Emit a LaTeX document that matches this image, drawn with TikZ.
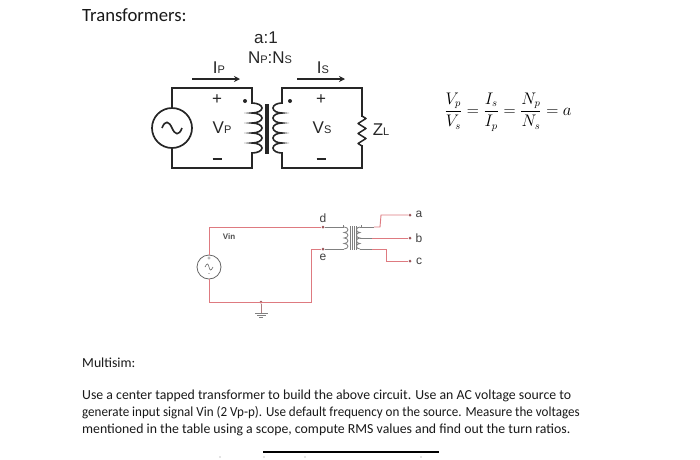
\documentclass[tikz,border=0pt]{standalone}
\usepackage{fontspec}
\usepackage{amsmath}
\usepackage{graphicx}
\setmainfont{Carlito}
\newfontfamily\hv{Liberation Sans}
\newcommand{\bigsub}[2]{{\fontsize{17}{17}\selectfont #1\fontsize{11}{11}\selectfont #2}}
\definecolor{wirered}{HTML}{DE7A80}
\definecolor{wiregrey}{HTML}{808080}
\tikzset{
  x=1pt,y=1pt,
  wire/.style={draw=black!85,line width=1.6pt,line cap=rect},
  arrowline/.style={draw=black!85,line width=1.6pt,-{Stealth[length=6pt,width=6pt]}},
  bodytext/.style={font=\fontsize{13.8}{13.8}\selectfont,anchor=base west,inner sep=0pt,text=black!90},
  biglabel/.style={font=\hv\fontsize{17}{17}\selectfont,inner sep=0pt,text=black!85},
  smalllabel/.style={font=\hv\fontsize{12}{12}\selectfont,inner sep=0pt,text=black!75},
  redwire/.style={draw=wirered,line width=.9pt},
  greywire/.style={draw=wiregrey,line width=1pt},
  pin/.style={circle,fill=wirered!70!black,inner sep=0pt,minimum size=3pt},
  tick/.style={fill=black!45,inner sep=0pt,minimum size=1.2pt,circle},
}
\usetikzlibrary{arrows.meta}
\begin{document}
\begin{tikzpicture}
\useasboundingbox[fill=white] (0,0) rectangle (700,-459);
% texts
\node[bodytext,font=\fontsize{18.7}{18.7}\selectfont] (title) at (82,-21) {Transformers:};
\node[bodytext] (multi) at (82,-367) {Multisim:};
\node[bodytext] (l1) at (82,-399.5) {Use a center tapped transformer to build the above circuit. Use an AC voltage source to};
\node[bodytext] (l2) at (82,-416) {\scalebox{.946}[1]{generate input signal Vin (2 Vp-p). Use default frequency on the source. Measure the voltages}};
\node[bodytext] (l3) at (82,-433) {mentioned in the table using a scope, compute RMS values and find out the turn ratios.};
% upper circuit
\node[circle,draw=black!85,line width=1.7pt,minimum size=40pt,inner sep=0pt] (src) at (172,-128) {};
\draw[black!85,line width=1.6pt] (162,-128) .. controls (165,-120) and (169,-121) .. (172,-128) .. controls (175,-135) and (179,-136) .. (182,-128);
\coordinate (tl) at (172,-88);
\coordinate (pt) at (252,-88);
\coordinate (pa) at (252,-103);
\coordinate (pb) at (252,-153);
\coordinate (pbt) at (252,-168);
\coordinate (bl) at (172,-168);
\draw[wire] (src.north) -- (tl) -- (pt) -- (pa);
\draw[wire] (src.south) -- (bl) -- (pbt) -- (pb);
\draw[wire,line cap=round] (pa) arc[start angle=90,end angle=-90,x radius=10,y radius=5]
  arc[start angle=90,end angle=-90,x radius=10,y radius=5]
  arc[start angle=90,end angle=-90,x radius=10,y radius=5]
  arc[start angle=90,end angle=-90,x radius=10,y radius=5]
  arc[start angle=90,end angle=-90,x radius=10,y radius=5];
\node[draw=none,fill=black!85,minimum width=3.5pt,minimum height=50pt,inner sep=0pt] (core) at (267,-128.5) {};
\coordinate (sa) at (282,-103);
\coordinate (sb) at (282,-153);
\coordinate (st) at (282,-88);
\coordinate (sbt) at (282,-168);
\coordinate (tr) at (362,-88);
\coordinate (br) at (362,-168);
\coordinate (ra) at (362,-116);
\coordinate (rb) at (362,-146);
\draw[wire] (sa) -- (st) -- (tr) -- (ra);
\draw[wire] (sb) -- (sbt) -- (br) -- (rb);
\draw[wire,line cap=round] (sa) arc[start angle=90,end angle=270,x radius=9,y radius=5]
  arc[start angle=90,end angle=270,x radius=9,y radius=5]
  arc[start angle=90,end angle=270,x radius=9,y radius=5]
  arc[start angle=90,end angle=270,x radius=9,y radius=5]
  arc[start angle=90,end angle=270,x radius=9,y radius=5];
\draw[black!85,line width=1.5pt,line join=round] (ra) -- (366,-118.5) -- (358,-123.5) -- (366,-128.5) -- (358,-133.5) -- (366,-138.5) -- (358,-143.5) -- (rb);
\coordinate (ipa) at (192,-79); \coordinate (ipb) at (240,-79);
\coordinate (isa) at (297,-79); \coordinate (isb) at (345,-79);
\draw[arrowline] (ipa) -- (ipb);
\draw[arrowline] (isa) -- (isb);
\node[circle,fill=black!85,inner sep=0pt,minimum size=4pt] (dot1) at (245,-101) {};
\node[circle,fill=black!85,inner sep=0pt,minimum size=4pt] (dot2) at (290,-101) {};
\node[biglabel] (ratio) at (266,-38) {a:1};
\node[biglabel] (np) at (270,-58) {\bigsub{N}{P}:\bigsub{N}{S}};
\node[biglabel] (ip) at (219,-68) {\bigsub{I}{P}};
\node[biglabel] (is) at (323,-68) {\bigsub{I}{S}};
\node[biglabel] (pp) at (217,-100) {+};
\node[biglabel] (ps) at (321,-100) {+};
\node[biglabel] (mp) at (217,-159) {\rule{9pt}{1.3pt}};
\node[biglabel] (ms) at (321,-159) {\rule{9pt}{1.3pt}};
\node[biglabel] (vp) at (222,-128) {\bigsub{V}{P}};
\node[biglabel] (vs) at (322,-128) {\bigsub{V}{S}};
\node[biglabel] (zl) at (381,-130) {\bigsub{Z}{L}};
% formula
\node[inner sep=0pt,font=\fontsize{16}{19}\selectfont] (formula) at (508,-112) {\scalebox{.97}{$\displaystyle \frac{V_p}{V_s}=\frac{I_s}{I_p}=\frac{N_p}{N_s}=a$}};
% lower circuit
\node[circle,draw=black!60,line width=.8pt,minimum size=24pt,inner sep=0pt] (vsrc) at (209,-267) {};
\draw[black!60,line width=.6pt] (205,-267) .. controls (207,-263) and (208,-263) .. (209,-267) .. controls (210,-271) and (211,-271) .. (213,-267);
\node[inner sep=0pt,font=\hv\fontsize{6}{6}\selectfont,text=black!70] (vp2) at (209,-259) {+};
\node[inner sep=0pt,font=\hv\fontsize{6}{6}\selectfont,text=black!70] (vm2) at (209,-275) {-};
\coordinate (tl2) at (209,-227);
\node[pin] (d) at (323,-227) {};
\node[pin] (e) at (323,-249) {};
\coordinate (ec) at (311,-249);
\coordinate (br2) at (311,-302);
\coordinate (bl2) at (209,-302);
\node[pin] (g) at (261,-302) {};
\coordinate (gb) at (261,-313);
\draw[redwire] (vsrc.north) -- (tl2) -- (d);
\draw[redwire] (vsrc.south) -- (bl2) -- (br2) -- (ec) -- (e);
\draw[draw=wirered!50!wiregrey,line width=.9pt] (g) -- (gb);
\node[fill=wiregrey,inner sep=0pt,minimum width=13pt,minimum height=1.4pt] (g1) at (261,-313.5) {};
\node[fill=wiregrey,inner sep=0pt,minimum width=9pt,minimum height=1.4pt] (g2) at (261,-315.5) {};
\node[fill=wiregrey,inner sep=0pt,minimum width=4pt,minimum height=1.4pt] (g3) at (261,-317.5) {};
% transformer 2
\coordinate (c1) at (344,-227);
\coordinate (c2) at (344,-249);
\draw[greywire] (d) -- (c1);
\draw[greywire] (e) -- (c2);
\draw[wiregrey,line width=.8pt] (c1) arc[start angle=90,end angle=-90,x radius=4,y radius=2.75]
 arc[start angle=90,end angle=-90,x radius=4,y radius=2.75]
 arc[start angle=90,end angle=-90,x radius=4,y radius=2.75]
 arc[start angle=90,end angle=-90,x radius=4,y radius=2.75];
\foreach \xx in {350,352,354,356}{\draw[wiregrey,line width=.9pt] (\xx,-226) -- (\xx,-250);}
\coordinate (s1) at (360,-227);
\coordinate (s2) at (360,-238);
\coordinate (s3) at (360,-249);
\draw[wiregrey,line width=.8pt] (s1) arc[start angle=90,end angle=270,x radius=3.5,y radius=2.75]
 arc[start angle=90,end angle=270,x radius=3.5,y radius=2.75]
 arc[start angle=90,end angle=270,x radius=3.5,y radius=2.75]
 arc[start angle=90,end angle=270,x radius=3.5,y radius=2.75];
\coordinate (s1g) at (374,-227);
\coordinate (s2g) at (372,-238);
\coordinate (s3g) at (372,-249);
\draw[greywire] (s1) -- (s1g);
\draw[greywire] (s2) -- (s2g);
\draw[greywire] (s3) -- (s3g);
\node[pin] (pa2) at (410,-215) {};
\node[pin] (pb2) at (410,-238) {};
\node[pin] (pc2) at (410,-261) {};
\coordinate (aa) at (380,-227);
\coordinate (ab) at (381,-215);
\coordinate (ca) at (386,-249);
\coordinate (cb) at (386,-261);
\draw[redwire] (s1g) -- (aa) -- (ab) -- (pa2);
\draw[redwire] (s2g) -- (pb2);
\draw[redwire] (s3g) -- (ca) -- (cb) -- (pc2);
\draw[wiregrey,line width=.5pt] (343,-225) -- (343,-227) (361,-225) -- (361,-227);
\node[smalllabel] (la) at (419,-214) {a};
\node[smalllabel] (lb) at (419,-238) {b};
\node[smalllabel] (lc) at (419,-261) {c};
\node[smalllabel] (ld) at (323,-218) {d};
\node[smalllabel] (le) at (323,-257) {e};
\node[inner sep=0pt,font=\hv\bfseries\fontsize{8}{8}\selectfont,text=black!70] (vin) at (229,-237) {Vin};
% bottom bar
\coordinate (bar1) at (263,-452);
\coordinate (bar2) at (439,-452);
\draw[black,line width=2.8pt] (bar1) -- (bar2);
\node[tick] (t1) at (220,-457) {};
\node[tick] (t2) at (264,-457) {};
\node[tick] (t3) at (305,-457) {};
\node[tick] (t4) at (421,-457) {};
\end{tikzpicture}
\end{document}
